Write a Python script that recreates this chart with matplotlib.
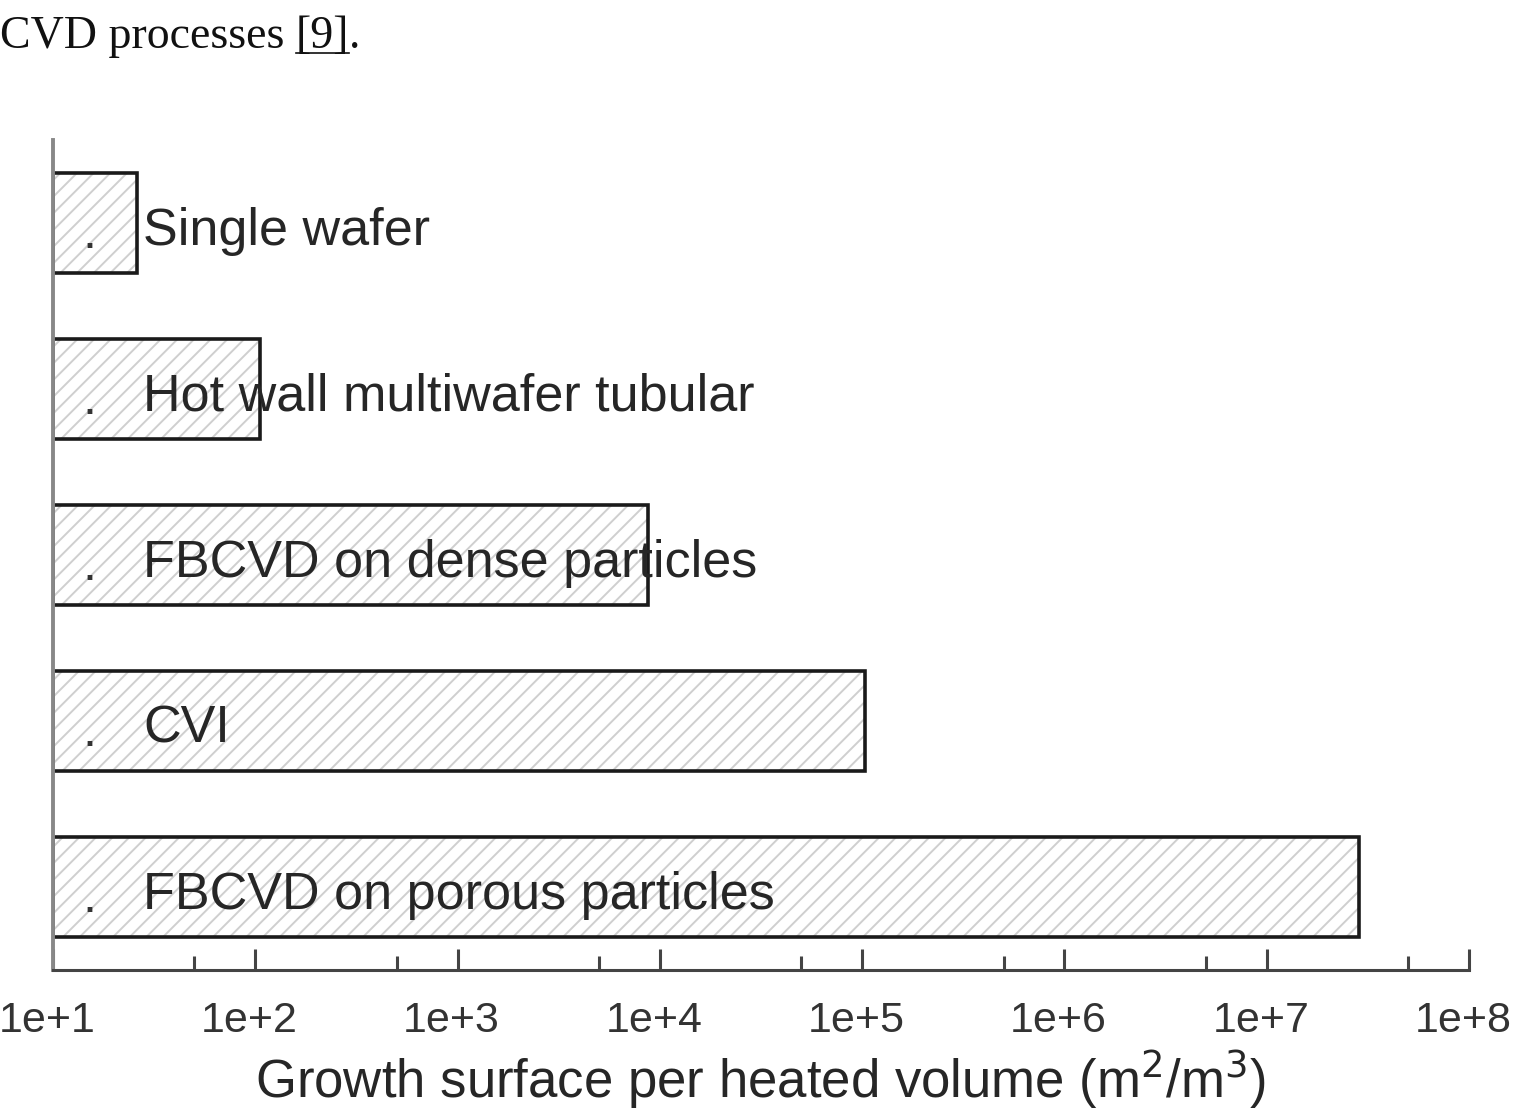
import numpy as np
import matplotlib
matplotlib.use('Agg')
import matplotlib.pyplot as plt
from matplotlib.lines import Line2D
from matplotlib.transforms import ScaledTranslation

# processes, top to bottom, and growth surface per heated volume (m2/m3)
processes = ['Single wafer', 'Hot wall multiwafer tubular', 'FBCVD on dense particles',
             'CVI', 'FBCVD on porous particles']
surface = [26, 105, 8.7e3, 1.03e5, 2.85e7]
decades = [1e1, 1e2, 1e3, 1e4, 1e5, 1e6, 1e7, 1e8]
decade_labels = ['1e+1', '1e+2', '1e+3', '1e+4', '1e+5', '1e+6', '1e+7', '1e+8']
minor_ticks = [5e1, 5e2, 5e3, 5e4, 5e5, 5e6, 5e7]

plt.rcParams['font.family'] = ['Liberation Sans', 'DejaVu Sans']
plt.rcParams['hatch.linewidth'] = 1.4

W, H = 1534, 1108
fig = plt.figure(figsize=(W / 100, H / 100), dpi=100)

# caption line from the page above the figure
renderer = fig.canvas.get_renderer()
serif = dict(family='Liberation Serif', size=33, color='#111111', va='baseline')
cx, cy = 0.0, 1 - 48 / H
t1 = fig.text(cx, cy, 'CVD processes ', **serif)
bb1 = t1.get_window_extent(renderer)
t2 = fig.text(bb1.x1 / W, cy, '[9]', **serif)
bb2 = t2.get_window_extent(renderer)
fig.add_artist(Line2D([bb2.x0 / W, bb2.x1 / W], [cy - 5 / H, cy - 5 / H],
                      color='#111111', lw=1.2, transform=fig.transFigure))
fig.text(bb2.x1 / W, cy, '.', **serif)

ax = fig.add_axes([53 / W, 138 / H, (1469 - 53) / W, (968 - 138) / H])
ypos = np.arange(len(processes))[::-1]
widths = [v - decades[0] for v in surface]
# light hatch first, dark outline on top
ax.barh(ypos, widths, left=decades[0], height=0.6, color='white',
        edgecolor='#cfcfcf', linewidth=0, hatch='//')
ax.barh(ypos, widths, left=decades[0], height=0.6, fill=False,
        edgecolor='#1a1a1a', linewidth=2.6)

for y, name in zip(ypos, processes):
    ax.text(10 ** 1.18, y - 0.07, '.', fontsize=36, color='#333333', va='center', ha='center')
    ax.text(10 ** 1.445, y - 0.05, name, fontsize=37.5, color='#262626', va='center', ha='left')

ax.set_xscale('log')
ax.set_xlim(decades[0], decades[-1])
ax.set_ylim(-0.5, 4.5)
ax.set_xticks(decades)
ax.set_xticklabels(decade_labels)
ax.set_xticks(minor_ticks, minor=True)
ax.set_yticks([])
ax.tick_params(axis='x', which='major', direction='in', length=15, width=2.2,
               color='#444444', pad=22, labelsize=31, labelcolor='#333333')
ax.tick_params(axis='x', which='minor', direction='in', length=10, width=2.2,
               color='#444444', labelbottom=False)
shift = ScaledTranslation(-6 / 100, 0, fig.dpi_scale_trans)
for lab in ax.get_xticklabels():
    lab.set_transform(lab.get_transform() + shift)

for side in ['top', 'right']:
    ax.spines[side].set_visible(False)
ax.spines['left'].set_color('#888888')
ax.spines['left'].set_linewidth(2.8)
ax.spines['bottom'].set_color('#444444')
ax.spines['bottom'].set_linewidth(2.2)

ax.set_xlabel(r'Growth surface per heated volume (m$^2$/m$^3$)', fontsize=38,
              color='#262626', labelpad=5)

fig.savefig('out.png', dpi=100)
